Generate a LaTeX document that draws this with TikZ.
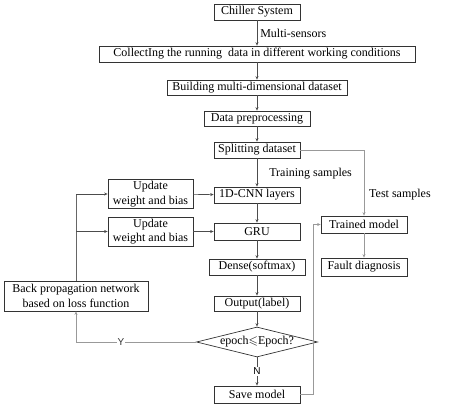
\documentclass[tikz,border=0pt]{standalone}
\usepackage{fontspec}
\usepackage{amssymb}
\setmainfont{Liberation Serif}
\newfontfamily\labsans{Liberation Sans}
\usetikzlibrary{arrows.meta,shapes.geometric}
\begin{document}
\begin{tikzpicture}[x=1pt,y=-1pt,
  box/.style={draw=black!80,line width=0.7pt,rectangle,inner sep=0pt,align=center,
    font=\fontsize{12}{14.5}\selectfont},
  dia/.style={draw=black!80,line width=0.7pt,diamond,inner sep=0pt,aspect=4,
    font=\fontsize{12}{14.5}\selectfont},
  lab/.style={font=\fontsize{12}{14.5}\selectfont,inner sep=1pt},
  arr/.style={draw=black!70,line width=0.6pt,-{Stealth[length=3.5pt,width=3pt]}},
  garr/.style={draw=black!40,line width=0.6pt,-{Stealth[length=3.5pt,width=3pt]}},
]
\useasboundingbox (0,0) rectangle (474,409);
\node[box,minimum width=86,minimum height=16] (chiller) at (257,12) {Chiller System};
\node[box,minimum width=316,minimum height=16] (collect) at (257,54) {CollectIng the running\ \ data in different working conditions};
\node[box,minimum width=180,minimum height=15] (build) at (257,87.5) {Building multi-dimensional dataset};
\node[box,minimum width=106,minimum height=15] (prep) at (257,118.5) {Data preprocessing};
\node[box,minimum width=86,minimum height=16] (split) at (257,150) {Splitting dataset};
\node[box,minimum width=86,minimum height=16] (cnn) at (257,195) {1D-CNN layers};
\node[box,minimum width=86,minimum height=17] (gru) at (257,231.5) {GRU};
\node[box,minimum width=96,minimum height=16] (dense) at (257,267) {Dense(softmax)};
\node[box,minimum width=86,minimum height=15] (out) at (257,303.5) {Output(label)};
\node[dia,minimum width=121,minimum height=30] (dec) at (257,342) {epoch$\leqslant$Epoch?};
\node[box,minimum width=86,minimum height=17] (save) at (257,394.5) {Save model};
\node[box,minimum width=85,minimum height=29] (upd1) at (150.5,194) {Update\\weight and bias};
\node[box,minimum width=85,minimum height=29] (upd2) at (150.5,231.5) {Update\\weight and bias};
\node[box,minimum width=144,minimum height=30] (bp) at (76,296) {Back propagation network\\based on loss function};
\node[box,minimum width=86,minimum height=17] (trained) at (364,224.5) {Trained model};
\node[box,minimum width=86,minimum height=18] (fault) at (364,267) {Fault diagnosis};
% main flow
\draw[arr] (chiller) -- (collect) node[lab,midway,right,xshift=2pt] {Multi-sensors};
\draw[arr] (collect) -- (build);
\draw[arr] (build) -- (prep);
\draw[arr] (prep) -- (split);
\draw[arr] (split) -- (cnn) node[lab,midway,right,xshift=11pt,yshift=-1pt] {Training samples};
\draw[arr] (cnn) -- (gru);
\draw[arr] (gru) -- (dense);
\draw[arr] (dense) -- (out);
\draw[arr] (out) -- (dec);
\draw[arr] (dec) -- (save) node[midway,fill=white,inner sep=1pt,font=\labsans\fontsize{10}{12}\selectfont] {N};
% test branch
\draw[garr] (split.east) -| (trained.north);
\node[lab,anchor=west] (testlab) at (368,195) {Test samples};
\draw[garr] (trained) -- (fault);
\coordinate (sv) at (313,394.5);
\draw[garr] (save.east) -- (sv) |- (trained.west);
% feedback loop
\coordinate (yl) at (76,342);
\draw[garr] (dec.west) -- (yl) -- (bp.south);
\node[fill=white,inner sep=1pt,font=\labsans\fontsize{10}{12}\selectfont,text=black!80] (ylab) at (121,342) {Y};
\coordinate (top) at (76,194);
\draw[draw=black!60,line width=0.6pt] (bp.north) -- (top);
\draw[arr] (top) -- (upd1.west);
\draw[arr] (76,231.5) -- (upd2.west);
\draw[arr] (upd1) -- (cnn);
\draw[arr] (upd2) -- (gru);
\end{tikzpicture}
\end{document}
